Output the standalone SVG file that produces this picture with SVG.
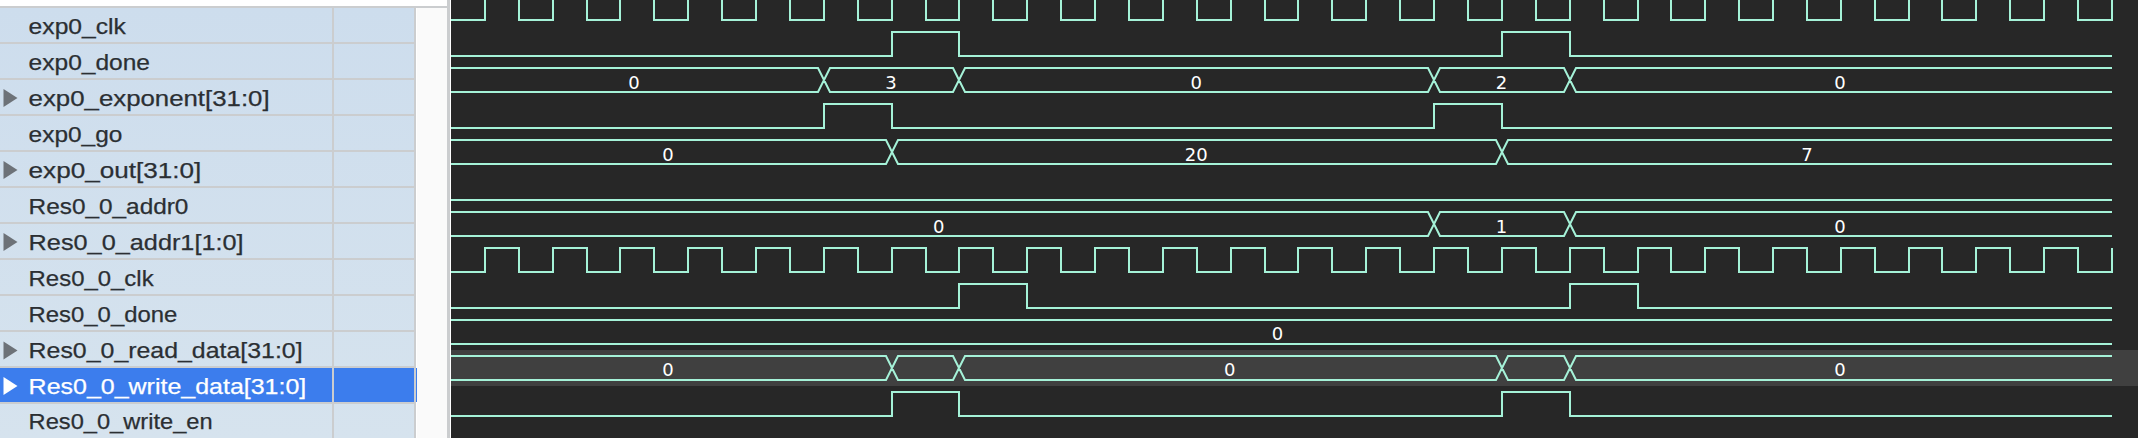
<svg xmlns="http://www.w3.org/2000/svg" width="2138" height="438" viewBox="0 0 2138 438">
<defs>
<linearGradient id="pg" x1="0" y1="0" x2="0" y2="1"><stop offset="0" stop-color="#cddded"/><stop offset="1" stop-color="#d6e3ee"/></linearGradient>
</defs>
<style>
.l{font:22px "Liberation Sans",Arial,sans-serif;fill:#2b2f33;stroke:#2b2f33;stroke-width:.25}
.sel{fill:#fff;stroke:#fff}
.v{font:18px "DejaVu Sans",sans-serif;fill:#fff;text-anchor:middle}
.w{fill:none;stroke:#a5f2d8;stroke-width:2}
.s{fill:#cbcdcf}
.t{fill:#6d7278}
</style>
<rect width="2138" height="438" fill="#fff"/>
<rect x="417" y="8" width="30" height="430" fill="#fafafa"/>
<rect y="8" width="414" height="430" fill="url(#pg)"/>
<rect y="6" width="447" height="2" class="s"/>
<rect x="447" y="0" width="3" height="438" class="s"/>
<rect x="414" y="8" width="2" height="430" class="s"/>
<rect x="332" y="8" width="2" height="430" class="s"/>
<g id="sep">
<rect y="42" width="416" height="2" class="s"/><rect y="78" width="416" height="2" class="s"/><rect y="114" width="416" height="2" class="s"/><rect y="150" width="416" height="2" class="s"/><rect y="186" width="416" height="2" class="s"/><rect y="222" width="416" height="2" class="s"/><rect y="258" width="416" height="2" class="s"/><rect y="294" width="416" height="2" class="s"/><rect y="330" width="416" height="2" class="s"/><rect y="366" width="416" height="2" class="s"/><rect y="402" width="416" height="2" class="s"/>
</g>
<rect x="451" width="1687" height="438" fill="#272727"/>
<rect x="451" y="350" width="1687" height="36" fill="#404040"/>
<rect y="368" width="332" height="34" fill="#3c7ded"/>
<rect x="334" y="368" width="80" height="34" fill="#3c7ded"/>
<rect x="416" y="368" width="1" height="34" fill="#3c7ded"/>
<g id="exp0_clk"><text class="l" x="28.6" y="33.500" textLength="97.3" lengthAdjust="spacingAndGlyphs">exp0_clk</text></g>
<g id="exp0_done"><text class="l" x="28.6" y="69.500" textLength="121.4" lengthAdjust="spacingAndGlyphs">exp0_done</text></g>
<g id="exp0_exponent"><path d="M3.5 89L17.500 98L3.500 107Z" class="t"/><text class="l" x="28.6" y="105.500" textLength="241" lengthAdjust="spacingAndGlyphs">exp0_exponent[31:0]</text></g>
<g id="exp0_go"><text class="l" x="28.6" y="141.500" textLength="93.750" lengthAdjust="spacingAndGlyphs">exp0_go</text></g>
<g id="exp0_out"><path d="M3.5 161L17.500 170L3.500 179Z" class="t"/><text class="l" x="28.6" y="177.500" textLength="172.800" lengthAdjust="spacingAndGlyphs">exp0_out[31:0]</text></g>
<g id="Res0_0_addr0"><text class="l" x="28.6" y="213.500" textLength="159.800" lengthAdjust="spacingAndGlyphs">Res0_0_addr0</text></g>
<g id="Res0_0_addr1"><path d="M3.5 233L17.500 242L3.500 251Z" class="t"/><text class="l" x="28.6" y="249.500" textLength="215" lengthAdjust="spacingAndGlyphs">Res0_0_addr1[1:0]</text></g>
<g id="Res0_0_clk"><text class="l" x="28.6" y="285.500" textLength="125" lengthAdjust="spacingAndGlyphs">Res0_0_clk</text></g>
<g id="Res0_0_done"><text class="l" x="28.6" y="321.500" textLength="148.700" lengthAdjust="spacingAndGlyphs">Res0_0_done</text></g>
<g id="Res0_0_read_data"><path d="M3.5 341.500L17.500 350.500L3.500 359.500Z" class="t"/><text class="l" x="28.6" y="357.700" textLength="274" lengthAdjust="spacingAndGlyphs">Res0_0_read_data[31:0]</text></g>
<g id="Res0_0_write_data"><path d="M3.5 377L17.500 386L3.500 395Z" fill="#fff"/><text class="l sel" x="28.6" y="393.500" textLength="277.700" lengthAdjust="spacingAndGlyphs">Res0_0_write_data[31:0]</text></g>
<g id="Res0_0_write_en"><text class="l" x="28.6" y="428.700" textLength="184" lengthAdjust="spacingAndGlyphs">Res0_0_write_en</text></g>
<g id="connectors" class="w">
<path id="w_exp0_clk" d="M451 20H485V-4H519V20H553V-4H587V20H620V-4H654V20H688V-4H722V20H756V-4H790V20H824V-4H858V20H892V-4H926V20H959V-4H993V20H1027V-4H1061V20H1095V-4H1129V20H1163V-4H1197V20H1231V-4H1265V20H1298V-4H1332V20H1366V-4H1400V20H1434V-4H1468V20H1502V-4H1536V20H1570V-4H1604V20H1638V-4H1671V20H1705V-4H1739V20H1773V-4H1807V20H1841V-4H1875V20H1909V-4H1942V20H1976V-4H2010V20H2044V-4H2078V20H2112V-4"/>
<path id="w_exp0_done" d="M451 56H892V32H959V56H1502V32H1570V56H2112"/>
<path id="w_exp0_exponent" d="M451 68H818L830 92H953L965 68H1428L1440 92H1564L1576 68H2112M451 92H818L830 68H953L965 92H1428L1440 68H1564L1576 92H2112"/>
<path id="w_exp0_go" d="M451 128H824V104H892V128H1434V104H1502V128H2112"/>
<path id="w_exp0_out" d="M451 140H886L898 164H1496L1508 140H2112M451 164H886L898 140H1496L1508 164H2112"/>
<path id="w_addr0" d="M451 200H2112"/>
<path id="w_addr1" d="M451 212H1428L1440 236H1564L1576 212H2112M451 236H1428L1440 212H1564L1576 236H2112"/>
<path id="w_res_clk" d="M451 272H485V248H519V272H553V248H587V272H620V248H654V272H688V248H722V272H756V248H790V272H824V248H858V272H892V248H926V272H959V248H993V272H1027V248H1061V272H1095V248H1129V272H1163V248H1197V272H1231V248H1265V272H1298V248H1332V272H1366V248H1400V272H1434V248H1468V272H1502V248H1536V272H1570V248H1604V272H1638V248H1671V272H1705V248H1739V272H1773V248H1807V272H1841V248H1875V272H1909V248H1942V272H1976V248H2010V272H2044V248H2078V272H2112V248"/>
<path id="w_res_done" d="M451 308H959V284H1027V308H1570V284H1638V308H2112"/>
<path id="w_read" d="M451 320H2112M451 344H2112"/>
<path id="w_write" d="M451 356H886L898 380H953L965 356H1496L1508 380H1564L1576 356H2112M451 380H886L898 356H953L965 380H1496L1508 356H1564L1576 380H2112"/>
<path id="w_en" d="M451 416H892V392H959V416H1502V392H1570V416H2112"/>
</g>
<g id="values">
<text class="v" x="634" y="88.500">0</text><text class="v" x="891" y="88.500">3</text><text class="v" x="1196.300" y="88.500">0</text><text class="v" x="1501.500" y="88.500">2</text><text class="v" x="1840" y="88.500">0</text>
<text class="v" x="668" y="160.500">0</text><text class="v" x="1196.300" y="160.500">20</text><text class="v" x="1807" y="160.500">7</text>
<text class="v" x="938.700" y="232.500">0</text><text class="v" x="1501.500" y="232.500">1</text><text class="v" x="1840" y="232.500">0</text>
<text class="v" x="1277.600" y="339.500">0</text>
<text class="v" x="668" y="375.500">0</text><text class="v" x="1229.800" y="375.500">0</text><text class="v" x="1840" y="375.500">0</text>
</g>
</svg>
